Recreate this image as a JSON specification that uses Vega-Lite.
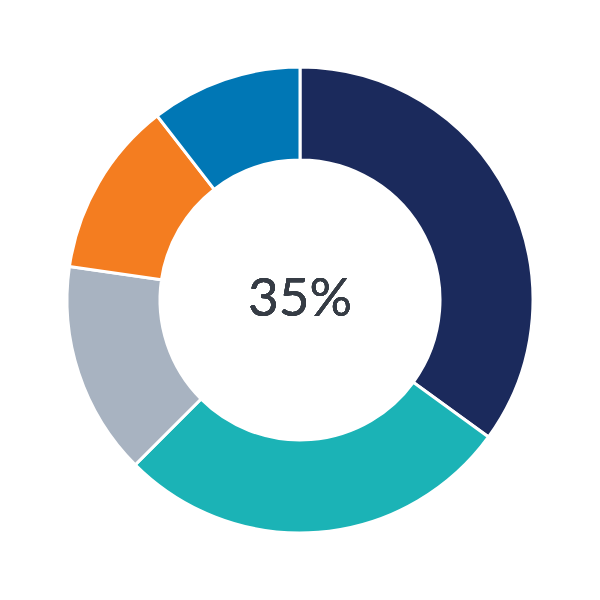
{
  "$schema": "https://vega.github.io/schema/vega-lite/v6.json",
  "width": 600,
  "height": 600,
  "autosize": {"type": "fit", "contains": "padding"},
  "padding": 0,
  "background": "white",
  "view": {"stroke": null},
  "data": {
    "values": [
      {"segment": "A", "order": 1, "share": 35},
      {"segment": "B", "order": 2, "share": 27.5},
      {"segment": "C", "order": 3, "share": 14.8},
      {"segment": "D", "order": 4, "share": 12.2},
      {"segment": "E", "order": 5, "share": 10.5}
    ]
  },
  "layer": [
    {
      "mark": {"type": "arc", "outerRadius": 233, "innerRadius": 140, "stroke": "white", "strokeWidth": 3},
      "encoding": {
        "theta": {"field": "share", "type": "quantitative", "stack": true},
        "order": {"field": "order", "type": "quantitative"},
        "color": {
          "field": "segment",
          "type": "nominal",
          "legend": null,
          "scale": {
            "domain": ["A", "B", "C", "D", "E"],
            "range": ["#1b2a5c", "#1bb3b6", "#a8b3c1", "#f47d20", "#0077b5"]
          }
        }
      }
    },
    {
      "mark": {"type": "text", "text": "35%", "font": "Lato", "fontWeight": 400, "fontSize": 53, "color": "#363c45", "align": "center", "baseline": "middle"},
      "encoding": {}
    }
  ]
}
